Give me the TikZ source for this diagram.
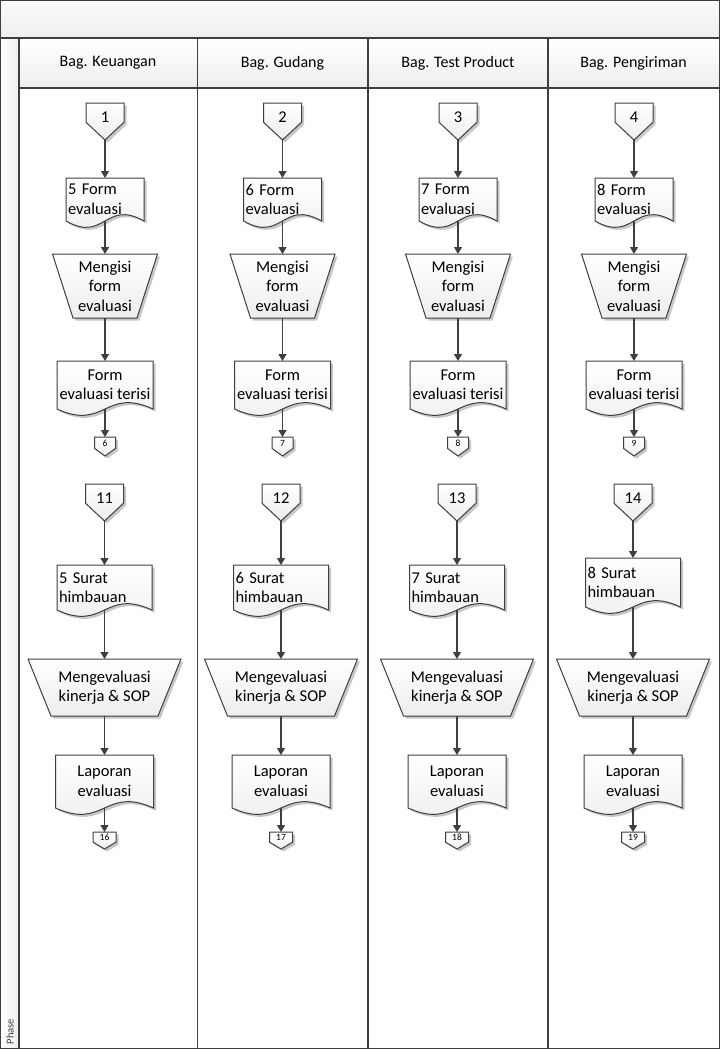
\documentclass[tikz,border=0pt]{standalone}
\usepackage{fontspec}
\setmainfont{Carlito}
\usetikzlibrary{calc,arrows.meta}
\pgfdeclarelayer{back}
\pgfdeclarelayer{bg}
\pgfsetlayers{back,bg,main}
\definecolor{linec}{HTML}{3F3F3F}
\begin{document}
\begin{tikzpicture}[x=1pt,y=-1pt,
  frame/.style={draw=linec, line width=1.1pt},
  shp/.style={draw=linec, line width=1pt, top color=white, bottom color=gray!14,
     preaction={draw=none, fill=black!22, transform canvas={shift={(2.5pt,-2.5pt)}}}},
  holder/.style={inner sep=0pt, outer sep=0pt, draw=none},
  txt/.style={font=\fontsize{16.5}{19.5}\selectfont},
  docn/.style={holder, txt},
  trapn/.style={holder, txt, align=center},
  offbig/.style={holder, minimum width=38, minimum height=37},
  offsmall/.style={holder, minimum width=21, minimum height=19},
  numbig/.style={inner sep=0pt, font=\fontsize{16.5}{19.5}\selectfont},
  numsmall/.style={inner sep=0pt, font=\fontsize{9.5}{10}\selectfont},
  hdr/.style={inner sep=0pt, font=\fontsize{16}{19}\selectfont},
  arr/.style={draw=linec, line width=1.1pt, -{Triangle[length=7pt,width=8pt]}}
]
\useasboundingbox (0,0) rectangle (720,1049);

% ---------- frame ----------
\begin{pgfonlayer}{back}
  \fill[top color=gray!3, bottom color=gray!13] (0,0) rectangle (719,38);
  \fill[left color=white, right color=gray!14] (0,38) rectangle (19,1048);
  \fill[top color=white, bottom color=gray!13] (19,38) rectangle (719,88);
  \draw[frame] (0.6,0.6) rectangle (719.4,1048.4);
  \draw[frame] (0,38) -- (719,38);
  \draw[frame] (19,38) -- (19,1048);
  \draw[frame] (19,88) -- (719,88);
  \draw[frame] (197.5,38) -- (197.5,1048);
  \draw[frame] (368,38) -- (368,1048);
  \draw[frame] (548,38) -- (548,1048);
\end{pgfonlayer}

\node[hdr] (h1) at (108,63) {Bag. Keuangan};
\node[hdr] (h2) at (282.5,63) {Bag. Gudang};
\node[hdr] (h3) at (458,63) {Bag. Test Product};
\node[hdr] (h4) at (633.5,63) {Bag. Pengiriman};
\node[rotate=90, anchor=west, inner sep=0pt, text=linec, font=\fontsize{10.5}{11}\selectfont] (ph) at (10,1044.5) {Phase};

% ---------- lanes ----------
\foreach \L/\cx/\cxb/\na/\nb/\nc/\nd/\ne/\dcy/\dh in {
  1/105/104.5/1/5/6/11/16/587.5/45,
  2/282.5/281/2/6/7/12/17/587.5/45,
  3/458/457/3/7/8/13/18/587.5/45,
  4/634/633/4/8/9/14/19/582.5/49}{
  % block A
  \node[offbig] (ca\L) at (\cx,121.5) {};
  \node[numbig] (ta\L) at (\cx,117) {\na};
  \node[docn, text width=74, inner xsep=2pt, align=left, minimum height=43] (da\L) at (\cx,199.5) {\nb\ Form\\evaluasi};
  \node[trapn, minimum width=105, minimum height=64] (ma\L) at (\cx,286) {Mengisi\\form\\evaluasi};
  \node[docn, minimum width=96, minimum height=48, align=center] (ea\L) at (\cx,385) {Form\\evaluasi terisi};
  \node[offsmall] (oa\L) at (\cx,446.5) {};
  \node[numsmall] (pa\L) at (\cx,443.5) {\nc};
  % block B
  \node[offbig] (cb\L) at (\cxb,502.5) {};
  \node[numbig] (tb\L) at (\cxb,498) {\nd};
  \node[docn, text width=91, inner xsep=2pt, align=left, minimum height=\dh] (db\L) at (\cxb,\dcy) {\nb\ Surat\\himbauan};
  \node[trapn, minimum width=153, minimum height=57] (mb\L) at (\cxb,687.5) {Mengevaluasi\\kinerja \& SOP};
  \node[docn, minimum width=98, minimum height=53, align=center] (eb\L) at (\cxb,781.5) {Laporan\\evaluasi};
  \node[offsmall, minimum width=23, minimum height=17] (ob\L) at (\cxb,840.5) {};
  \node[numsmall] (pb\L) at (\cxb,837.5) {\ne};

  \begin{pgfonlayer}{bg}
    % off-page connectors
    \foreach \n/\r in {ca\L/0.52, oa\L/0.6, cb\L/0.52, ob\L/0.6}{
      \path[shp] (\n.north west) -- (\n.north east) -- ($(\n.north east)!\r!(\n.south east)$)
        -- (\n.south) -- ($(\n.north west)!\r!(\n.south west)$) -- cycle;
    }
    % documents
    \foreach \n in {da\L, ea\L, db\L, eb\L}{
      \path[shp] (\n.north west) -- (\n.north east) -- (\n.south east)
        .. controls ($(\n.south)+(0,-22)$) and ($(\n.south)+(0,22)$) .. (\n.south west) -- cycle;
    }
    % manual operations
    \path[shp] (ma\L.north west) -- (ma\L.north east) -- ($(ma\L.south east)+(-20.5,0)$)
      -- ($(ma\L.south west)+(20.5,0)$) -- cycle;
    \path[shp] (mb\L.north west) -- (mb\L.north east) -- ($(mb\L.south east)+(-23,0)$)
      -- ($(mb\L.south west)+(23,0)$) -- cycle;
  \end{pgfonlayer}

  \draw[arr] (ca\L.south) -- (da\L.north);
  \draw[arr] (da\L.south) -- (ma\L.north);
  \draw[arr] (ma\L.south) -- (ea\L.north);
  \draw[arr] (ea\L.south) -- (oa\L.north);
  \draw[arr] (cb\L.south) -- (db\L.north);
  \draw[arr] (db\L.south) -- (mb\L.north);
  \draw[arr] (mb\L.south) -- (eb\L.north);
  \draw[arr] (eb\L.south) -- (ob\L.north);
}
\end{tikzpicture}
\end{document}
